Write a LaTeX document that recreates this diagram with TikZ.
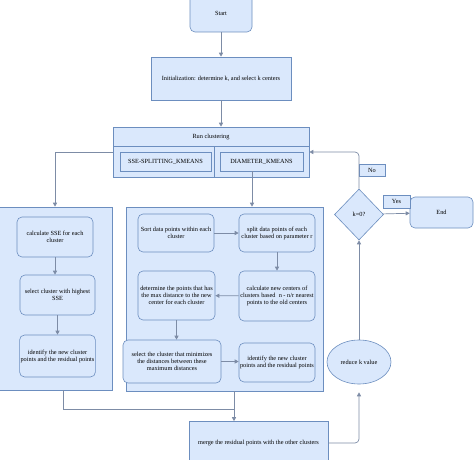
\documentclass[tikz,border=0pt]{standalone}
\usepackage{fontspec}
\setmainfont{Liberation Serif}
\usepackage{tikz}
\usetikzlibrary{arrows.meta,positioning,shapes.geometric,calc}
\definecolor{fillblue}{HTML}{DAE8FC}
\definecolor{lineblue}{HTML}{6C8EBF}
\definecolor{arrowgray}{HTML}{7D8CA6}

\begin{document}
\begin{tikzpicture}[x=1pt,y=-1pt,
  every node/.style={font=\fontsize{6.3}{7}\selectfont},
  stepbox/.style={rectangle,rounded corners=5pt,draw=lineblue,fill=fillblue,line width=0.6pt,align=center,inner sep=1pt},
  panel/.style={rectangle,draw=lineblue,fill=fillblue,line width=0.6pt,align=center,inner sep=1pt},
  decision/.style={diamond,aspect=1,draw=lineblue,fill=fillblue,line width=0.6pt,inner sep=0pt,minimum width=49pt,minimum height=51pt},
  oval/.style={ellipse,draw=lineblue,fill=fillblue,line width=0.6pt,inner sep=0pt,minimum width=64pt,minimum height=44pt},
  tag/.style={rectangle,draw=lineblue,fill=fillblue,line width=0.6pt,inner sep=0pt},
  arrow/.style={-{Triangle[length=4pt,width=4pt]},line width=0.7pt,color=arrowgray},
  flow/.style={line width=0.7pt,color=arrowgray}
]
\useasboundingbox[fill=white] (0,0) rectangle (474,460);

\node[stepbox,minimum width=62pt,minimum height=38pt] (start) at (221,13) {Start};
\node[panel,minimum width=140pt,minimum height=43pt] (init) at (221,78.5) {Initialization: determine k, and select k centers};

% run clustering block
\node[panel,minimum width=196pt,minimum height=50pt] (run) at (211,152) {};
\node (runtitle) at (211,136.5) {Run clustering};
\draw[lineblue,line width=0.6pt] (113,146) -- (309,146);
\draw[lineblue,line width=0.6pt] (214,146) -- (214,177);
\node[panel,minimum width=91pt,minimum height=19pt] (sse) at (165.5,161.5) {SSE-SPLITTING\_KMEANS};
\node[panel,minimum width=83pt,minimum height=19pt] (diam) at (261.5,161.5) {DIAMETER\_KMEANS};

% left panel
\node[panel,minimum width=114pt,minimum height=183pt] (leftc) at (55,298.5) {};
\node[stepbox,minimum width=76pt,minimum height=40pt] (calcsse) at (55,237) {calculate SSE for each\\cluster};
\node[stepbox,minimum width=75pt,minimum height=40pt] (pickhigh) at (57.5,295) {select cluster with highest\\SSE};
\node[stepbox,minimum width=75pt,minimum height=42pt] (identl) at (57.5,356) {identify the new cluster\\points and the residual points};

% middle panel
\node[panel,minimum width=197pt,minimum height=184pt] (midc) at (224.5,299) {};
\node[stepbox,minimum width=76pt,minimum height=38pt] (sortpts) at (176,233) {Sort data points within each\\cluster};
\node[stepbox,minimum width=76pt,minimum height=38pt] (splitpts) at (277,233) {split data points of each\\cluster based on parameter r};
\node[stepbox,minimum width=76pt,minimum height=50pt] (newcent) at (277,296) {calculate new centers of\\clusters based\ \ n - n/r nearest\\points to the old centers};
\node[stepbox,minimum width=77pt,minimum height=49pt] (maxdist) at (176.5,295.5) {determine the points that has\\the max distance to the new\\center for each cluster};
\node[stepbox,minimum width=98pt,minimum height=43pt] (minsel) at (172,361.5) {select the cluster that minimizes\\the distances between these\\maximum distances};
\node[stepbox,minimum width=76pt,minimum height=39pt] (identm) at (277,362.5) {identify the new cluster\\points and the residual points};

\node[panel,minimum width=139pt,minimum height=43pt] (merge) at (258.5,443) {merge the residual points with the other clusters};
\node[oval] (reduce) at (359,362) {reduce k value};
\node[decision] (kzero) at (359,214.5) {k=0?};
\node[stepbox,minimum width=63pt,minimum height=31pt] (finish) at (441.5,212.5) {End};
\node[tag,minimum width=26pt,minimum height=12pt] (nolbl) at (372,170) {No};
\node[tag,minimum width=27pt,minimum height=13pt] (yeslbl) at (396.5,201.5) {Yes};

\coordinate (ljoin) at (63,409);
\coordinate (mjoin) at (234,409);
\coordinate (dtap) at (252,171);

\draw[arrow] (start) -- (init);
\draw[arrow] (init.south) -- (init.south |- run.north);
\draw[arrow] (run.west) -| (leftc.north);
\draw[arrow] (dtap) -- (dtap |- midc.north);

\draw[arrow] (calcsse) -- (calcsse |- pickhigh.north);
\draw[arrow] (pickhigh) -- (pickhigh |- identl.north);

\draw[arrow] (sortpts) -- (splitpts);
\draw[arrow] (splitpts) -- (newcent);
\draw[arrow] (newcent) -- (maxdist);
\draw[arrow] (maxdist) -- (maxdist |- minsel.north);
\draw[arrow] (minsel) -- (minsel -| identm.west);

\draw[flow] (leftc.south -| ljoin) -- (ljoin) -- (mjoin);
\draw[arrow] (midc.south -| mjoin) -- (merge.north -| mjoin);
\draw[arrow,rounded corners=4pt,shorten >=8pt] (merge.east) -| (reduce.south);
\draw[arrow] (reduce) -- (kzero);
\draw[arrow,rounded corners=4pt] (kzero.north) |- (run.east);
\draw[arrow] (kzero) -- (finish);
\end{tikzpicture}
\end{document}
